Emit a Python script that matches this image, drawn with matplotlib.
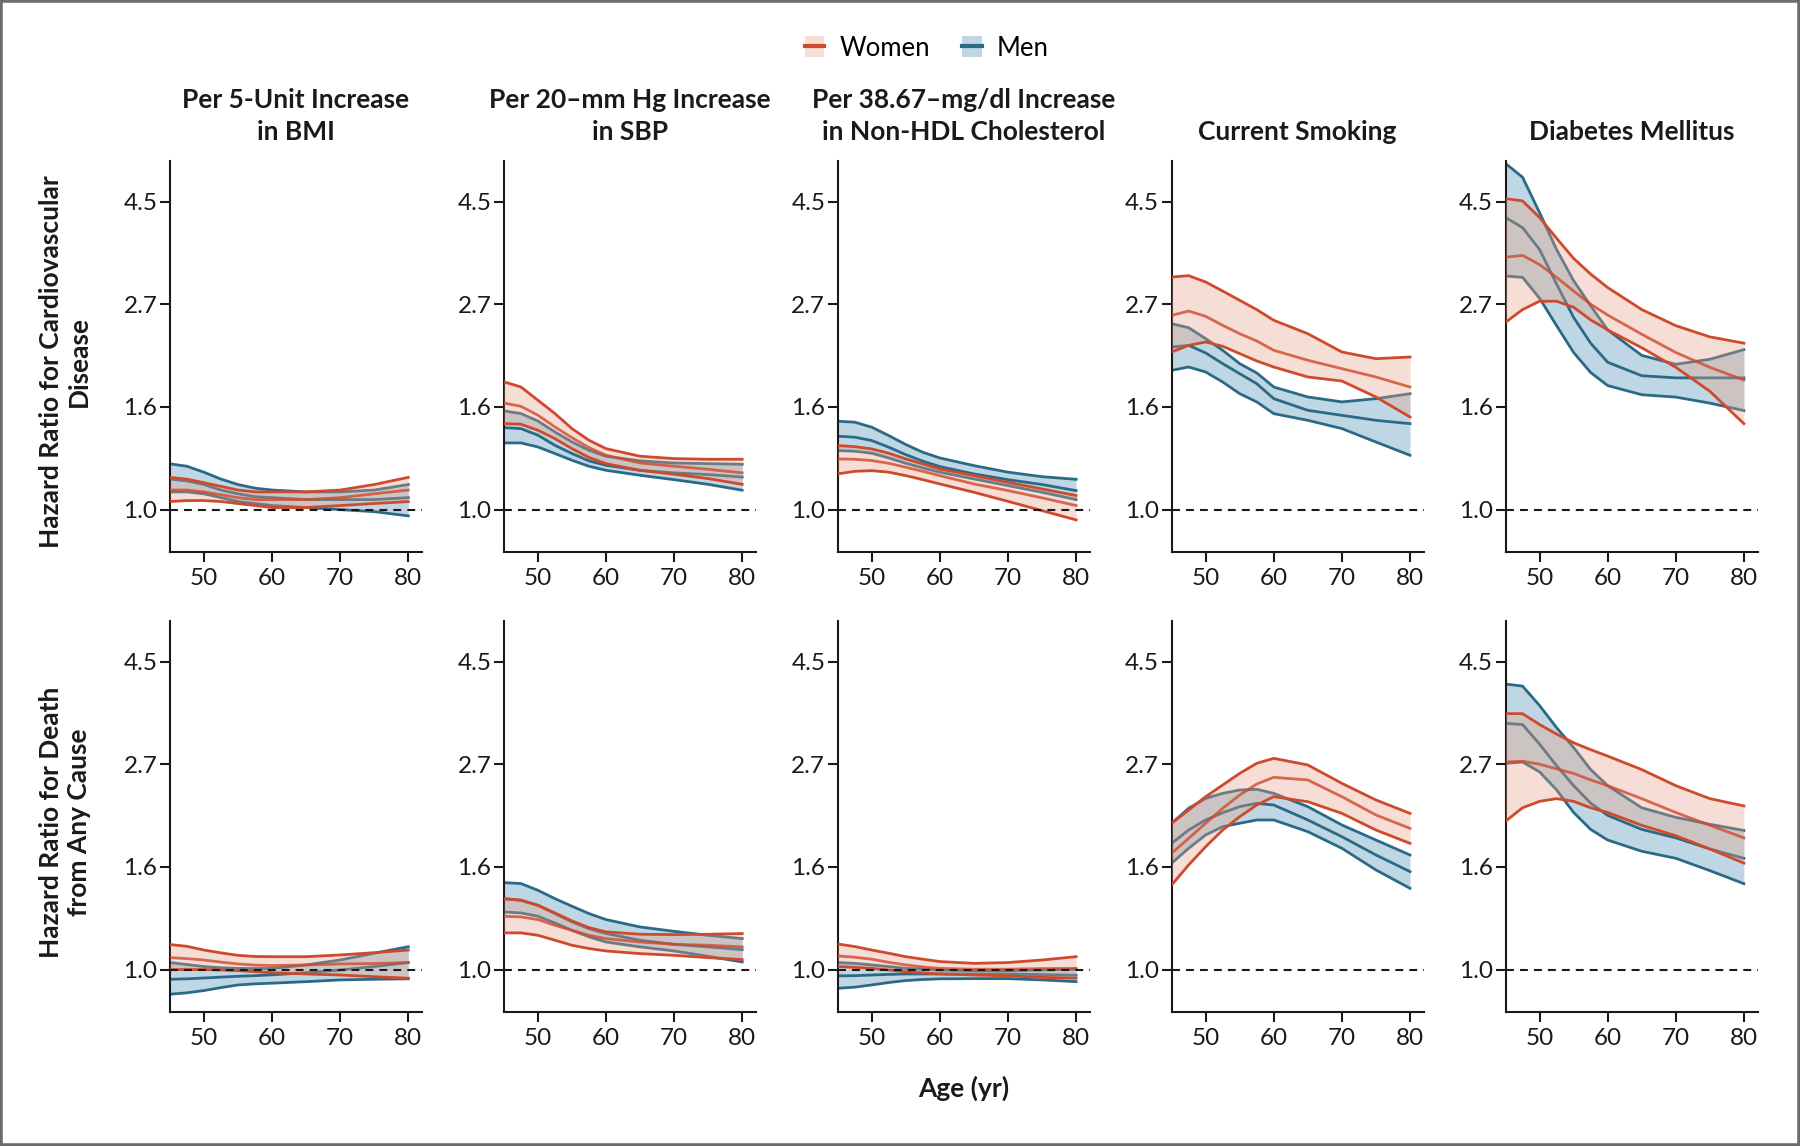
import numpy as np
import matplotlib
matplotlib.use("Agg")
import matplotlib.pyplot as plt
from matplotlib.patches import Patch, Rectangle
from matplotlib.lines import Line2D

plt.rcParams['font.family'] = ['Lato', 'DejaVu Sans']

ages = [45, 47.5, 50, 52.5, 55, 57.5, 60, 65, 70, 75, 80]

# each sex: [lower CI, estimate, upper CI] hazard ratios at the ages above
bmi_cvd_women = [[1.04, 1.045, 1.045, 1.04, 1.03, 1.02, 1.01, 1.01, 1.02, 1.03, 1.04],
                 [1.10, 1.10, 1.09, 1.075, 1.06, 1.05, 1.05, 1.05, 1.06, 1.08, 1.10],
                 [1.17, 1.16, 1.14, 1.12, 1.10, 1.09, 1.09, 1.09, 1.10, 1.13, 1.17]]
bmi_cvd_men = [[1.09, 1.09, 1.08, 1.06, 1.04, 1.03, 1.02, 1.01, 1.00, 0.99, 0.97],
               [1.16, 1.15, 1.13, 1.10, 1.08, 1.065, 1.06, 1.05, 1.05, 1.05, 1.06],
               [1.25, 1.235, 1.20, 1.16, 1.13, 1.11, 1.10, 1.09, 1.09, 1.10, 1.13]]

sbp_cvd_women = [[1.52, 1.516, 1.472, 1.413, 1.346, 1.289, 1.251, 1.211, 1.188, 1.163, 1.131],
                 [1.681, 1.654, 1.584, 1.496, 1.42, 1.353, 1.303, 1.255, 1.235, 1.217, 1.196],
                 [1.863, 1.818, 1.704, 1.597, 1.484, 1.402, 1.346, 1.297, 1.282, 1.278, 1.278]]
sbp_cvd_men = [[1.384, 1.384, 1.357, 1.314, 1.272, 1.235, 1.211, 1.182, 1.157, 1.131, 1.099],
               [1.491, 1.484, 1.437, 1.368, 1.314, 1.268, 1.241, 1.211, 1.196, 1.186, 1.172],
               [1.618, 1.597, 1.54, 1.46, 1.391, 1.335, 1.297, 1.268, 1.255, 1.251, 1.247]]

chol_cvd_women = [[1.19, 1.205, 1.209, 1.20, 1.18, 1.157, 1.133, 1.088, 1.041, 0.995, 0.951],
                  [1.28, 1.278, 1.27, 1.253, 1.229, 1.205, 1.18, 1.133, 1.097, 1.059, 1.02],
                  [1.366, 1.359, 1.344, 1.316, 1.28, 1.249, 1.219, 1.18, 1.142, 1.106, 1.071]]
chol_cvd_men = [[1.333, 1.329, 1.316, 1.286, 1.253, 1.225, 1.20, 1.161, 1.124, 1.088, 1.05],
                [1.43, 1.423, 1.40, 1.355, 1.307, 1.266, 1.233, 1.19, 1.157, 1.13, 1.097],
                [1.538, 1.531, 1.494, 1.434, 1.373, 1.322, 1.286, 1.239, 1.20, 1.174, 1.159]]

smk_cvd_women = [[2.155, 2.226, 2.263, 2.216, 2.138, 2.063, 2.003, 1.908, 1.871, 1.731, 1.57],
                 [2.576, 2.631, 2.564, 2.454, 2.356, 2.274, 2.173, 2.07, 1.987, 1.908, 1.817],
                 [3.105, 3.126, 3.031, 2.90, 2.772, 2.649, 2.515, 2.356, 2.155, 2.086, 2.103]]
smk_cvd_men = [[1.971, 2.003, 1.955, 1.862, 1.759, 1.69, 1.596, 1.545, 1.484, 1.39, 1.303],
               [2.208, 2.226, 2.145, 2.036, 1.939, 1.847, 1.717, 1.622, 1.583, 1.545, 1.52],
               [2.474, 2.426, 2.30, 2.173, 2.036, 1.946, 1.817, 1.731, 1.69, 1.717, 1.759]]

dm_cvd_women = [[2.49, 2.65, 2.76, 2.76, 2.68, 2.52, 2.40, 2.20, 2.00, 1.78, 1.52],
                [3.42, 3.45, 3.30, 3.10, 2.90, 2.72, 2.58, 2.35, 2.15, 2.00, 1.88],
                [4.55, 4.50, 4.15, 3.75, 3.40, 3.15, 2.95, 2.65, 2.45, 2.32, 2.25]]
dm_cvd_men = [[3.12, 3.10, 2.80, 2.45, 2.15, 1.95, 1.83, 1.75, 1.73, 1.68, 1.62],
              [4.15, 3.95, 3.55, 3.00, 2.55, 2.25, 2.05, 1.92, 1.90, 1.90, 1.90],
              [5.40, 5.05, 4.25, 3.55, 3.05, 2.70, 2.40, 2.12, 2.03, 2.08, 2.18]]

bmi_dth_women = [[1.00, 1.00, 1.00, 0.998, 0.995, 0.99, 0.985, 0.979, 0.974, 0.966, 0.959],
                 [1.06, 1.055, 1.048, 1.037, 1.028, 1.022, 1.02, 1.023, 1.028, 1.03, 1.035],
                 [1.13, 1.12, 1.10, 1.085, 1.072, 1.066, 1.065, 1.065, 1.074, 1.086, 1.10]]
bmi_dth_men = [[0.887, 0.893, 0.903, 0.916, 0.928, 0.933, 0.936, 0.943, 0.951, 0.954, 0.956],
               [0.954, 0.956, 0.96, 0.964, 0.968, 0.971, 0.975, 0.985, 0.998, 1.015, 1.035],
               [1.035, 1.025, 1.015, 1.009, 1.006, 1.005, 1.006, 1.023, 1.048, 1.083, 1.118]]

sbp_dth_women = [[1.196, 1.196, 1.182, 1.154, 1.126, 1.108, 1.095, 1.081, 1.072, 1.06, 1.05],
                 [1.297, 1.293, 1.276, 1.241, 1.211, 1.182, 1.163, 1.144, 1.131, 1.126, 1.117],
                 [1.413, 1.402, 1.368, 1.318, 1.268, 1.227, 1.202, 1.188, 1.186, 1.188, 1.192]]
sbp_dth_men = [[1.324, 1.318, 1.297, 1.255, 1.211, 1.173, 1.144, 1.117, 1.095, 1.067, 1.038],
               [1.413, 1.402, 1.368, 1.314, 1.262, 1.221, 1.192, 1.154, 1.131, 1.117, 1.102],
               [1.528, 1.521, 1.472, 1.413, 1.362, 1.314, 1.276, 1.231, 1.205, 1.182, 1.163]]

chol_dth_women = [[1.015, 1.011, 1.006, 0.998, 0.99, 0.984, 0.979, 0.974, 0.97, 0.963, 0.959],
                  [1.069, 1.062, 1.052, 1.036, 1.023, 1.013, 1.006, 1.002, 1.002, 1.005, 1.006],
                  [1.133, 1.119, 1.10, 1.083, 1.065, 1.052, 1.04, 1.031, 1.035, 1.048, 1.065]]
chol_dth_men = [[0.913, 0.918, 0.928, 0.939, 0.948, 0.953, 0.956, 0.957, 0.957, 0.951, 0.943],
                [0.97, 0.971, 0.974, 0.977, 0.979, 0.979, 0.979, 0.979, 0.979, 0.976, 0.973],
                [1.035, 1.031, 1.023, 1.015, 1.006, 1.002, 0.998, 0.995, 0.995, 0.998, 1.002]]

smk_dth_women = [[1.51, 1.665, 1.82, 1.974, 2.107, 2.23, 2.322, 2.266, 2.141, 1.974, 1.85],
                 [1.762, 1.896, 2.04, 2.194, 2.341, 2.47, 2.552, 2.519, 2.322, 2.124, 1.99],
                 [2.04, 2.176, 2.322, 2.458, 2.602, 2.732, 2.799, 2.71, 2.478, 2.285, 2.141]]
smk_dth_men = [[1.679, 1.806, 1.927, 2.007, 2.04, 2.073, 2.073, 1.958, 1.806, 1.625, 1.486],
               [1.85, 1.974, 2.073, 2.148, 2.212, 2.248, 2.23, 2.073, 1.911, 1.748, 1.612],
               [2.04, 2.194, 2.303, 2.36, 2.399, 2.407, 2.36, 2.212, 2.023, 1.88, 1.748]]

dm_dth_women = [[2.06, 2.20, 2.27, 2.30, 2.27, 2.20, 2.15, 2.02, 1.92, 1.80, 1.68],
                [2.75, 2.76, 2.72, 2.66, 2.60, 2.52, 2.45, 2.30, 2.15, 2.02, 1.90],
                [3.48, 3.48, 3.30, 3.15, 3.02, 2.92, 2.83, 2.65, 2.45, 2.30, 2.22]]
dm_dth_men = [[2.73, 2.75, 2.62, 2.40, 2.15, 1.98, 1.88, 1.78, 1.72, 1.62, 1.52],
              [3.32, 3.30, 3.00, 2.70, 2.45, 2.25, 2.12, 1.98, 1.90, 1.80, 1.72],
              [4.02, 3.98, 3.62, 3.25, 2.95, 2.65, 2.45, 2.20, 2.10, 2.03, 1.97]]

titles = ["Per 5-Unit Increase\nin BMI",
          "Per 20\u2013mm Hg Increase\nin SBP",
          "Per 38.67\u2013mg/dl Increase\nin Non-HDL Cholesterol",
          "Current Smoking",
          "Diabetes Mellitus"]
row_labels = ["Hazard Ratio for Cardiovascular\nDisease",
              "Hazard Ratio for Death\nfrom Any Cause"]
ytick_vals = np.exp([0, 0.5, 1.0, 1.5])
ytick_labels = ["1.0", "1.6", "2.7", "4.5"]
xticks = [50, 60, 70, 80]

rows = [[(bmi_cvd_women, bmi_cvd_men), (sbp_cvd_women, sbp_cvd_men),
         (chol_cvd_women, chol_cvd_men), (smk_cvd_women, smk_cvd_men),
         (dm_cvd_women, dm_cvd_men)],
        [(bmi_dth_women, bmi_dth_men), (sbp_dth_women, sbp_dth_men),
         (chol_dth_women, chol_dth_men), (smk_dth_women, smk_dth_men),
         (dm_dth_women, dm_dth_men)]]

W_LINE = '#cf4a2c'
W_FILL = (0.90, 0.62, 0.53)
M_LINE = '#2b6a86'
M_FILL = '#bfd7e4'
INK = '#1a1a1a'

fig = plt.figure(figsize=(18, 11.46), dpi=100)

lefts = [0.0944 + i * 0.1855 for i in range(5)]
bottoms = [0.5186, 0.1172]
w, h = 0.140, 0.3412

for r in range(2):
    for c in range(5):
        ax = fig.add_axes([lefts[c], bottoms[r], w, h])
        women, men = rows[r][c]
        ax.fill_between(ages, men[0], men[2], color=M_FILL, lw=0, zorder=1)
        for k in range(3):
            ax.plot(ages, men[k], color=M_LINE, lw=2.0, zorder=2,
                    solid_joinstyle='round')
        ax.fill_between(ages, women[0], women[2], color=W_FILL, alpha=0.35,
                        lw=0, zorder=3)
        for k in range(3):
            ax.plot(ages, women[k], color=W_LINE, lw=2.0, zorder=4,
                    alpha=0.8 if k == 1 else 1.0, solid_joinstyle='round')
        ax.axhline(1.0, color=INK, lw=1.5, ls=(0, (3.8, 2.9)), zorder=5)

        ax.set_yscale('log')
        ax.set_ylim(np.exp(-0.205), np.exp(1.70))
        ax.set_xlim(45, 82)
        ax.set_yticks(ytick_vals)
        ax.set_yticklabels(ytick_labels)
        ax.yaxis.set_minor_locator(matplotlib.ticker.NullLocator())
        ax.set_xticks(xticks)
        for s in ['top', 'right']:
            ax.spines[s].set_visible(False)
        for s in ['left', 'bottom']:
            ax.spines[s].set_linewidth(1.5)
            ax.spines[s].set_color(INK)
        ax.tick_params(axis='both', direction='out', length=7, width=1.5,
                       color=INK, labelsize=17.5, labelcolor=INK)
        ax.tick_params(axis='y', pad=2)
        ax.tick_params(axis='x', pad=5)
        if r == 0:
            ax.set_title(titles[c], fontsize=19, fontweight='bold',
                         pad=15, color=INK, linespacing=1.38)

for r in range(2):
    fig.text(0.036, bottoms[r] + h / 2 - 0.005, row_labels[r], rotation=90,
             ha='center', va='center', fontsize=19, fontweight='bold',
             color=INK, multialignment='center', linespacing=1.2)

fig.text(lefts[2] + w / 2, 0.05, "Age (yr)", ha='center', va='center',
         fontsize=19, fontweight='bold', color=INK)

handles = [(Patch(facecolor='#f6ddd5', edgecolor='none'),
            Line2D([], [], color=W_LINE, lw=3)),
           (Patch(facecolor=M_FILL, edgecolor='none'),
            Line2D([], [], color=M_LINE, lw=3))]
fig.legend(handles, ["Women", "Men"], loc='center', ncol=2,
           bbox_to_anchor=(0.515, 0.958), frameon=False, fontsize=18.5,
           handlelength=0.75, handleheight=0.9, handletextpad=0.6,
           columnspacing=1.25)

fig.patches.append(Rectangle((0, 0), 1, 1, transform=fig.transFigure,
                             fill=False, edgecolor='#6b6b6b', lw=4))

fig.savefig("out.png", dpi=100)
